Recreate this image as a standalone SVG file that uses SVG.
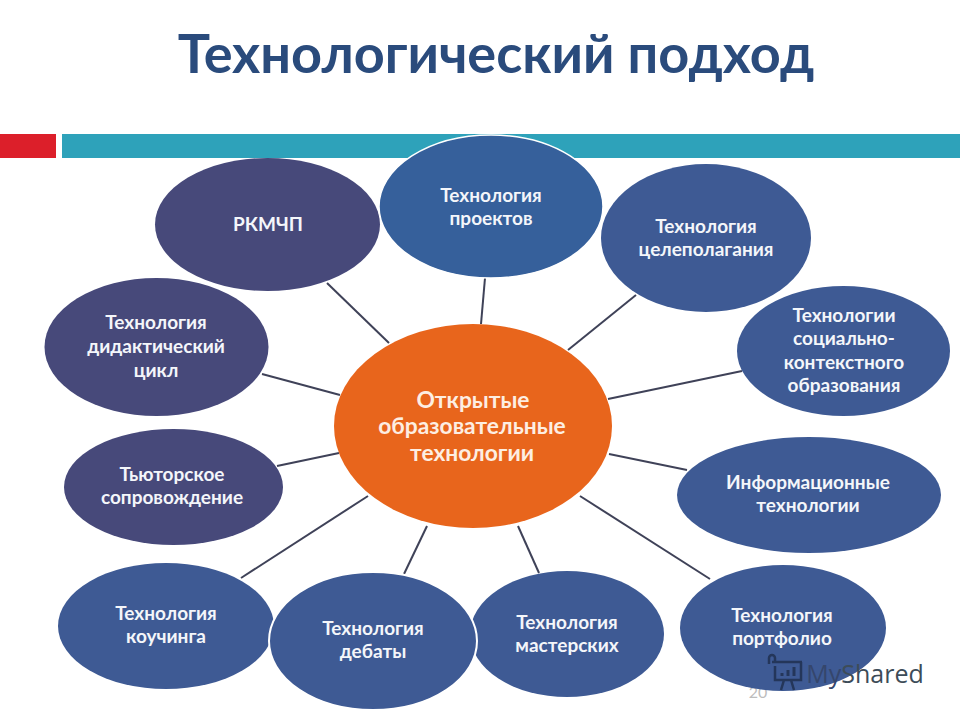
<svg xmlns="http://www.w3.org/2000/svg" width="960" height="720" viewBox="0 0 960 720">
<style>
text{font-family:Lato,"Liberation Sans",sans-serif;font-weight:700;text-anchor:middle}
.l{font-size:19px;fill:#f4f6fa}
.c{font-size:22.800px;fill:#fdeee2}
#connectors line{stroke:#3f4258;stroke-width:2}
.v{fill:#47497a}.m{fill:#3e5a94}.b{fill:#36609b}
</style>
<rect width="960" height="720" fill="#fff"/>
<text x="496" y="73" font-size="54" style="fill:#2a4b7c">Технологический подход</text>
<rect x="0" y="134" width="56" height="24" fill="#dc1f2a"/>
<rect x="62" y="134" width="898" height="24" fill="#2ea2ba"/>
<text x="758" y="698" font-size="16" style="fill:#bdbdbd;font-weight:400">20</text>
<g id="connectors">
<line x1="327" y1="283" x2="389" y2="343"/>
<line x1="485" y1="278" x2="481" y2="324"/>
<line x1="636" y1="295" x2="568" y2="350"/>
<line x1="742" y1="371" x2="608" y2="399"/>
<line x1="687" y1="470" x2="609" y2="454"/>
<line x1="710" y1="579" x2="580" y2="496"/>
<line x1="539" y1="573" x2="518" y2="526"/>
<line x1="404" y1="574" x2="427" y2="526"/>
<line x1="241" y1="578" x2="368" y2="496"/>
<line x1="277" y1="466" x2="339" y2="453"/>
<line x1="262" y1="374" x2="340" y2="395"/>
</g>
<g id="n-rkmchp"><ellipse class="v" cx="267.500" cy="224.500" rx="112.500" ry="66.500"/><text class="l" x="268" y="231">РКМЧП</text></g>
<g id="n-projects"><ellipse cx="491" cy="206.500" rx="112" ry="71.500" class="b" stroke="#fff" stroke-width="1.500"/><text class="l" x="491" y="202">Технология</text><text class="l" x="491" y="225">проектов</text></g>
<g id="n-goal"><ellipse class="m" cx="706" cy="238" rx="105" ry="74"/><text class="l" x="706" y="233">Технология</text><text class="l" x="706" y="256">целеполагания</text></g>
<g id="n-social"><ellipse class="m" cx="843.500" cy="351" rx="106.500" ry="65"/><text class="l" x="844" y="322">Технологии</text><text class="l" x="844" y="345">социально-</text><text class="l" x="844" y="369">контекстного</text><text class="l" x="844" y="392">образования</text></g>
<g id="n-info"><ellipse class="m" cx="809" cy="495" rx="132" ry="58"/><text class="l" x="808" y="489">Информационные</text><text class="l" x="808" y="512">технологии</text></g>
<g id="n-portfolio"><ellipse class="m" cx="783" cy="628" rx="103" ry="63"/><text class="l" x="782" y="622">Технология</text><text class="l" x="782" y="645">портфолио</text></g>
<g id="n-workshops"><ellipse class="m" cx="567" cy="634" rx="97" ry="63"/><text class="l" x="567" y="629">Технология</text><text class="l" x="567" y="652">мастерских</text></g>
<g id="n-coaching"><ellipse class="m" cx="166" cy="626" rx="108" ry="63"/><text class="l" x="166" y="620">Технология</text><text class="l" x="166" y="643">коучинга</text></g>
<g id="n-debate"><ellipse class="m" cx="373" cy="641" rx="104" ry="69" stroke="#fff" stroke-width="2"/><text class="l" x="373" y="635">Технология</text><text class="l" x="373" y="658">дебаты</text></g>
<g id="n-tutor"><ellipse class="v" cx="173.500" cy="487" rx="109.500" ry="58"/><text class="l" x="172" y="481">Тьюторское</text><text class="l" x="172" y="504">сопровождение</text></g>
<g id="n-didactic"><ellipse class="v" cx="156.500" cy="347" rx="112" ry="69"/><text class="l" x="156" y="329">Технология</text><text class="l" x="156" y="353">дидактический</text><text class="l" x="156" y="377">цикл</text></g>
<g id="n-center"><ellipse cx="473" cy="426" rx="139" ry="102" fill="#e8651c"/><text class="c" x="473" y="408">Открытые</text><text class="c" x="472" y="434">образовательные</text><text class="c" x="472" y="461">технологии</text></g>
<g id="watermark" fill="none" stroke="#24365a" stroke-width="2.500">
<path d="M772 662h30M775 662v-4a3 3 0 0 0-6 0v6M775 666v14h26v-18M781 690l3-10M794 690l-3-10"/>
<path d="M782 676v-3M788 676v-6M794 676v-9" stroke-width="3"/>
<text x="865" y="683" font-size="25" stroke="none" style="font-family:'Open Sans',sans-serif;font-weight:400"><tspan fill="#35466c">My</tspan><tspan fill="#3d4c58">Shared</tspan></text>
</g>
</svg>
